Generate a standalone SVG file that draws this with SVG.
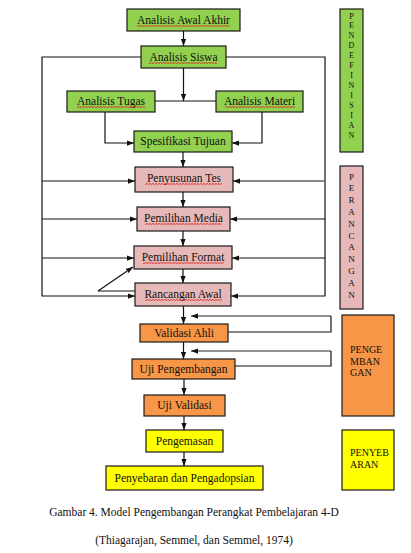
<svg xmlns="http://www.w3.org/2000/svg" width="411" height="553" viewBox="0 0 411 553" font-family="'Liberation Serif', 'Times New Roman', serif">
<style>
.n{stroke:#1a1a1a;stroke-width:1.2}
.g{fill:#92D050}.p{fill:#E6B9B8}.o{fill:#F79646}.y{fill:#FFFF00}
text{font-family:"Liberation Serif","Times New Roman",serif;fill:#111}
.t{font-size:11.5px;text-anchor:middle}
.s{font-size:10px}
.v1{font-size:8px;text-anchor:middle}
.v2{font-size:9px;text-anchor:middle}
.c{fill:none;stroke:#111;stroke-width:1.2}
.gr{stroke:#6e6e6e;stroke-width:1.6}
.cap{font-size:11.5px;text-anchor:middle}
.w{fill:url(#wave)}
</style>
<defs>
<marker id="a" viewBox="0 0 8 6" refX="8" refY="3" markerWidth="7" markerHeight="5.5" markerUnits="userSpaceOnUse" orient="auto"><path d="M0,0L8,3L0,6z" fill="#111"/></marker>
<pattern id="wave" width="3" height="2" patternUnits="userSpaceOnUse"><path d="M0,2L1.5,0L3,2" fill="none" stroke="#d22" stroke-width="0.7"/></pattern>
</defs>
<rect width="411" height="553" fill="#fff"/>
<g id="connectors">
<path class="c" d="M183.5,31V46" marker-end="url(#a)"/>
<path class="c" d="M183.5,68V101" marker-end="url(#a)"/>
<path class="c" d="M155,101H216"/>
<path class="c" d="M105,112V143H134" marker-end="url(#a)"/>
<path class="c" d="M262,112V143H232" marker-end="url(#a)"/>
<path class="c" d="M183,152V167" marker-end="url(#a)"/>
<path class="c" d="M183,192V207" marker-end="url(#a)"/>
<path class="c" d="M183,231V246" marker-end="url(#a)"/>
<path class="c" d="M183,269V283" marker-end="url(#a)"/>
<path class="c" d="M141,57H42V296H135" marker-end="url(#a)"/>
<path class="c" d="M226,57H325V296H231" marker-end="url(#a)"/>
<path class="c" d="M42,181H135" marker-end="url(#a)"/>
<path class="c" d="M42,219H137" marker-end="url(#a)"/>
<path class="c" d="M42,258H134" marker-end="url(#a)"/>
<path class="c" d="M324,181H233" marker-end="url(#a)"/>
<path class="c" d="M325,219H230" marker-end="url(#a)"/>
<path class="c" d="M325,258H232" marker-end="url(#a)"/>
<path class="c" d="M98,291L133,267" marker-end="url(#a)"/>
<path class="c" d="M98,291H135"/>
<path class="c" d="M183.5,306V324" marker-end="url(#a)"/>
<path class="c gr" d="M331,316H191" marker-end="url(#a)"/>
<path class="c" d="M331,316V332H228"/>
<path class="c" d="M183.5,342V359" marker-end="url(#a)"/>
<path class="c gr" d="M331,351H191" marker-end="url(#a)"/>
<path class="c" d="M331,351V366H235"/>
<path class="c" d="M184,379V395" marker-end="url(#a)"/>
<path class="c" d="M184,416V430" marker-end="url(#a)"/>
<path class="c" d="M184,452V466" marker-end="url(#a)"/>
</g>
<g id="n1"><rect class="n g" x="127" y="9" width="113" height="22"/><text class="t" x="183.5" y="24">Analisis Awal Akhir</text><rect class="w" x="137" y="25" width="93" height="2"/></g>
<g id="n2"><rect class="n g" x="141" y="46" width="85" height="22"/><text class="t" x="183.5" y="61">Analisis Siswa</text><rect class="w" x="149" y="62" width="68" height="2"/></g>
<g id="n3"><rect class="n g" x="67" y="91" width="88" height="21"/><text class="t" x="111" y="105">Analisis Tugas</text><rect class="w" x="77" y="106" width="68" height="2"/></g>
<g id="n4"><rect class="n g" x="216" y="91" width="87" height="21"/><text class="t" x="259.5" y="105">Analisis Materi</text><rect class="w" x="225" y="106" width="70" height="2"/></g>
<g id="n5"><rect class="n g" x="134" y="131" width="98" height="21"/><text class="t" x="183" y="145">Spesifikasi Tujuan</text></g>
<g id="n6"><rect class="n p" x="135" y="167" width="98" height="25"/><text class="t" x="184" y="182">Penyusunan Tes</text><rect class="w" x="145" y="183" width="77" height="2"/></g>
<g id="n7"><rect class="n p" x="137" y="207" width="93" height="24"/><text class="t" x="183.5" y="222">Pemilihan Media</text><rect class="w" x="145" y="223" width="77" height="2"/></g>
<g id="n8"><rect class="n p" x="134" y="246" width="98" height="23"/><text class="t" x="183" y="261">Pemilihan Format</text><rect class="w" x="143" y="262" width="81" height="2"/></g>
<g id="n9"><rect class="n p" x="135" y="283" width="96" height="23"/><text class="t" x="183" y="298">Rancangan Awal</text><rect class="w" x="145" y="299" width="77" height="2"/></g>
<g id="n10"><rect class="n o" x="140" y="324" width="88" height="18"/><text class="t" x="184" y="337">Validasi Ahli</text></g>
<g id="n11"><rect class="n o" x="132" y="359" width="103" height="20"/><text class="t" x="183.5" y="373">Uji Pengembangan</text></g>
<g id="n12"><rect class="n o" x="144" y="395" width="81" height="21"/><text class="t" x="184.5" y="409">Uji Validasi</text></g>
<g id="n13"><rect class="n y" x="146" y="430" width="77" height="22"/><text class="t" x="184.5" y="445">Pengemasan</text></g>
<g id="n14"><rect class="n y" x="106" y="466" width="157" height="24"/><text class="t" x="184.5" y="482">Penyebaran dan Pengadopsian</text></g>
<g id="s1"><rect class="n g" x="340" y="9" width="23" height="143"/>
<text class="v1" x="351.5" y="18.5">P</text><text class="v1" x="351.5" y="28.4">E</text><text class="v1" x="351.5" y="38.3">N</text><text class="v1" x="351.5" y="48.3">D</text><text class="v1" x="351.5" y="58.2">E</text><text class="v1" x="351.5" y="68.1">F</text><text class="v1" x="351.5" y="78">I</text><text class="v1" x="351.5" y="87.9">N</text><text class="v1" x="351.5" y="97.8">I</text><text class="v1" x="351.5" y="107.8">S</text><text class="v1" x="351.5" y="117.7">I</text><text class="v1" x="351.5" y="127.6">A</text><text class="v1" x="351.5" y="137.5">N</text></g>
<g id="s2"><rect class="n p" x="340" y="166" width="23" height="143"/>
<text class="v2" x="351.5" y="179.5">P</text><text class="v2" x="351.5" y="191.3">E</text><text class="v2" x="351.5" y="203.1">R</text><text class="v2" x="351.5" y="214.9">A</text><text class="v2" x="351.5" y="226.7">N</text><text class="v2" x="351.5" y="238.5">C</text><text class="v2" x="351.5" y="250.3">A</text><text class="v2" x="351.5" y="262.1">N</text><text class="v2" x="351.5" y="273.9">G</text><text class="v2" x="351.5" y="285.7">A</text><text class="v2" x="351.5" y="297.5">N</text></g>
<g id="s3"><rect class="n o" x="342" y="315" width="52" height="101"/><text class="s" x="350" y="353">PENGE</text><text class="s" x="350" y="364.5">MBAN</text><text class="s" x="350" y="376">GAN</text></g>
<g id="s4"><rect class="n y" x="342" y="430" width="52" height="60"/><text class="s" x="350" y="456">PENYEB</text><text class="s" x="350" y="467.5">ARAN</text></g>
<text class="cap" x="194" y="516">Gambar 4. Model Pengembangan Perangkat Pembelajaran 4-D</text>
<text class="cap" x="194" y="544">(Thiagarajan, Semmel, dan Semmel, 1974)</text>
</svg>
